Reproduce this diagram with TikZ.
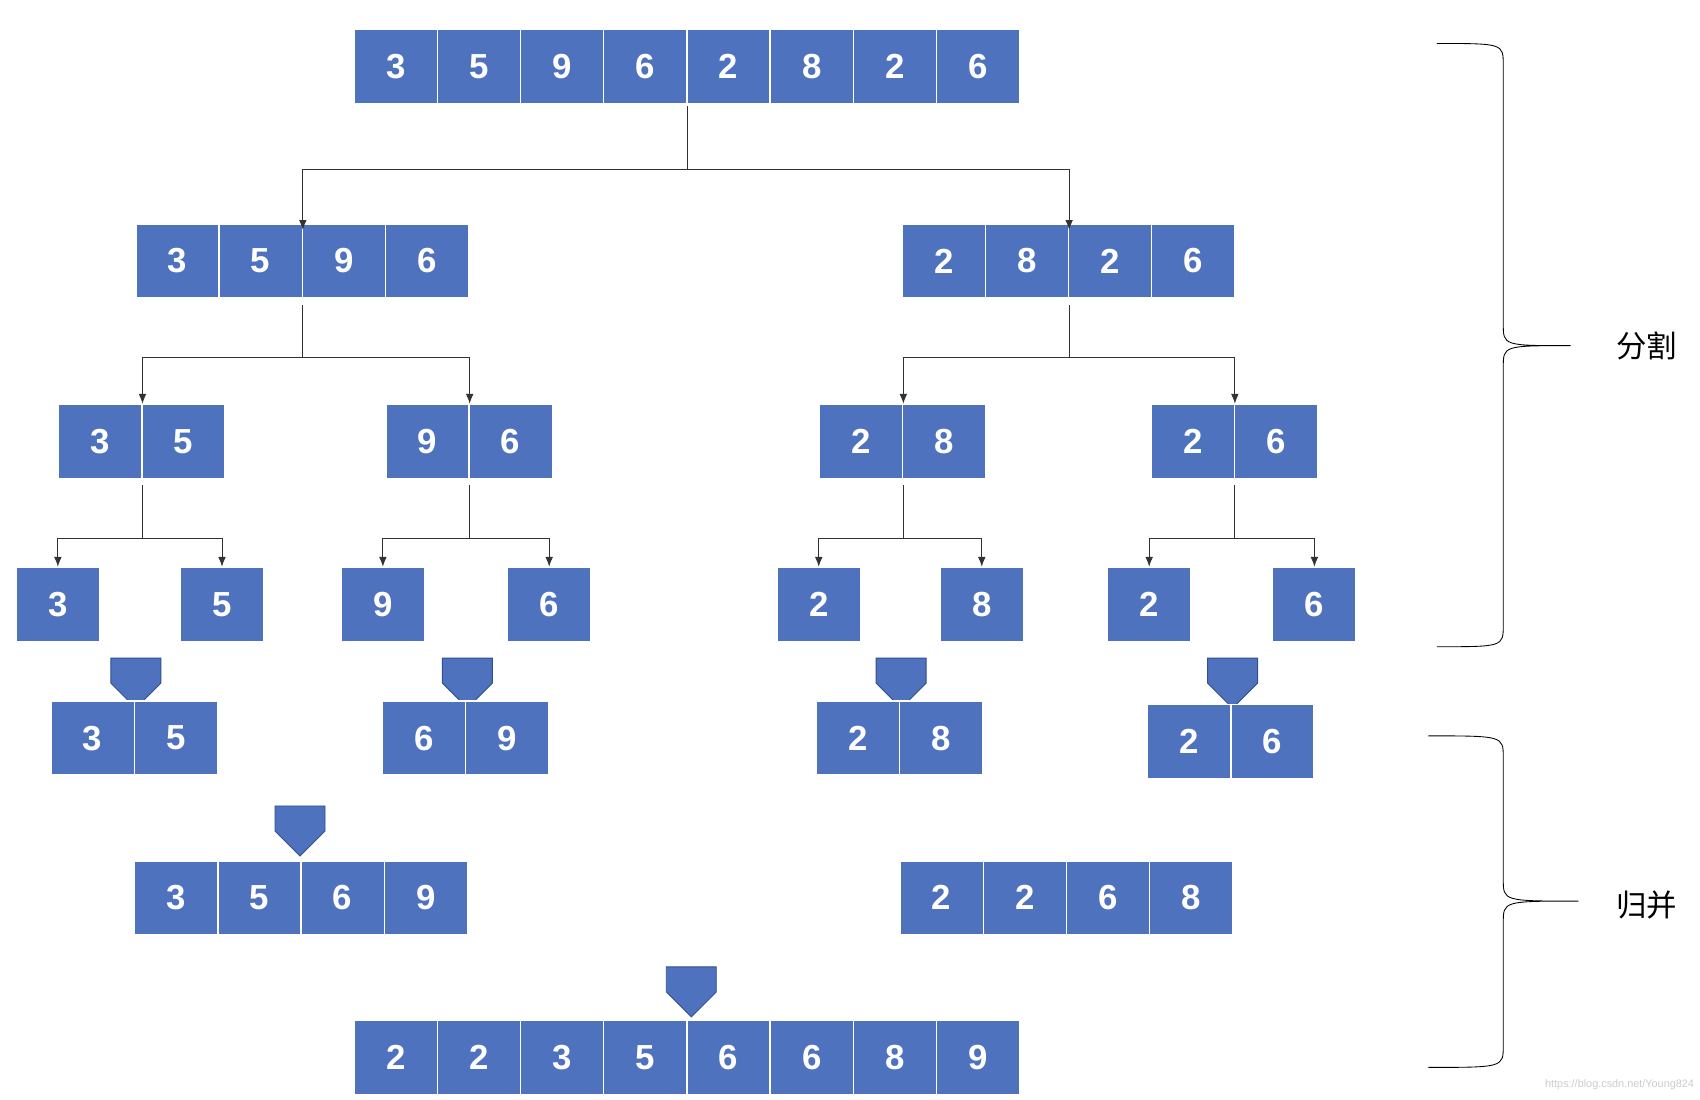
\documentclass[tikz,border=0pt]{standalone}
\usepackage{fontspec}
\setmainfont{Liberation Sans}
\newfontfamily\cjk{Noto Sans CJK SC}
\usetikzlibrary{shapes.arrows,arrows.meta}
\definecolor{cellblue}{HTML}{4F72BE}
\definecolor{arrowedge}{HTML}{2F4F8F}
% one row of cells: name, left x, centre y, values
\newcommand\cellrow[4]{%
  \foreach \v [count=\i] in {#4}
    \node[cell] (#1-\i) at (#2+\i*76.5-38.25,#3) {\v};}
\begin{document}
\begin{tikzpicture}[x=1pt,y=-1pt,
  cell/.style={rectangle,fill=cellblue,draw=white,line width=1.2pt,
    minimum width=76.5pt,minimum height=68pt,text=white,
    font=\fontsize{32}{36}\selectfont\bfseries},
  link/.style={draw=black!80,line width=0.8pt},
  down/.style={link,-{Latex[length=9pt,width=7pt]}},
  merge/.style={single arrow,shape border rotate=270,fill=cellblue,draw=arrowedge,
    line width=0.8pt,minimum width=46pt,minimum height=46pt,
    single arrow head extend=0pt,single arrow tip angle=90,inner sep=3pt}]
\useasboundingbox (0,0) rectangle (1564,1012);
% splitting
\cellrow{t}{326}{61}{3,5,9,6,2,8,2,6}
\cellrow{l}{125}{240}{3,5,9,6}
\cellrow{r}{830}{240}{2,8,2,6}
\cellrow{la}{54}{406}{3,5}
\cellrow{lb}{355}{406}{9,6}
\cellrow{ra}{754}{406}{2,8}
\cellrow{rb}{1059}{406}{2,6}
\cellrow{s1}{15}{556}{3}
\cellrow{s2}{166}{556}{5}
\cellrow{s3}{314}{556}{9}
\cellrow{s4}{467}{556}{6}
\cellrow{s5}{715}{556}{2}
\cellrow{s6}{865}{556}{8}
\cellrow{s7}{1019}{556}{2}
\cellrow{s8}{1171}{556}{6}
\draw[link] ([yshift=-2pt]t-4.south east) -- ++(0,58) coordinate (tm);
\draw[down] (tm) -| ([yshift=-6pt]l-2.north east);
\draw[down] (tm) -| ([yshift=-6pt]r-2.north east);
\foreach \p/\a/\b in {l/la/lb,r/ra/rb} {
  \draw[link] ([yshift=-6pt]\p-2.south east) -- ++(0,48) coordinate (\p m);
  \draw[down] (\p m) -| (\a-1.north east);
  \draw[down] (\p m) -| (\b-1.north east);
}
\foreach \p/\a/\b in {la/s1/s2,lb/s3/s4,ra/s5/s6,rb/s7/s8} {
  \draw[link] ([yshift=-6pt]\p-1.south east) -- ++(0,49) coordinate (\p m);
  \draw[down] (\p m) -| (\a-1.north);
  \draw[down] (\p m) -| (\b-1.north);
}
% merging
\node[merge] (m1) at (125,617) {};
\node[merge] (m2) at (430,617) {};
\node[merge] (m3) at (829,617) {};
\node[merge] (m4) at (1134,617) {};
\cellrow{ma}{47}{679}{3,5}
\cellrow{mb}{352}{679}{6,9}
\cellrow{mc}{751}{679}{2,8}
\cellrow{md}{1056}{682}{2,6}
\node[merge] (m5) at (276,753) {};
\cellrow{na}{124}{826}{3,5,6,9}
\cellrow{nb}{828}{826}{2,2,6,8}
\node[merge] (m6) at (636,901) {};
\cellrow{f}{326}{973}{2,2,3,5,6,6,8,9}
% braces
\draw[line width=0.8pt] (1322,40) .. controls (1383,40) .. (1383,60) -- (1383,298)
  .. controls (1383,318) .. (1445,318) .. controls (1383,318) .. (1383,338)
  -- (1383,575) .. controls (1383,595) .. (1322,595);
\node[font=\cjk\fontsize{28}{32}\selectfont] (split) at (1515,318) {分割};
\draw[line width=0.8pt] (1314,677) .. controls (1383,677) .. (1383,697) -- (1383,809)
  .. controls (1383,829) .. (1452,829) .. controls (1383,829) .. (1383,849)
  -- (1383,962) .. controls (1383,982) .. (1314,982);
\node[font=\cjk\fontsize{28}{32}\selectfont] (merge) at (1515,833) {归并};
\node[text=black!20,font=\fontsize{10}{12}\selectfont,anchor=east] (mark) at (1562,998) {https://blog.csdn.net/Young824};
\end{tikzpicture}
\end{document}
